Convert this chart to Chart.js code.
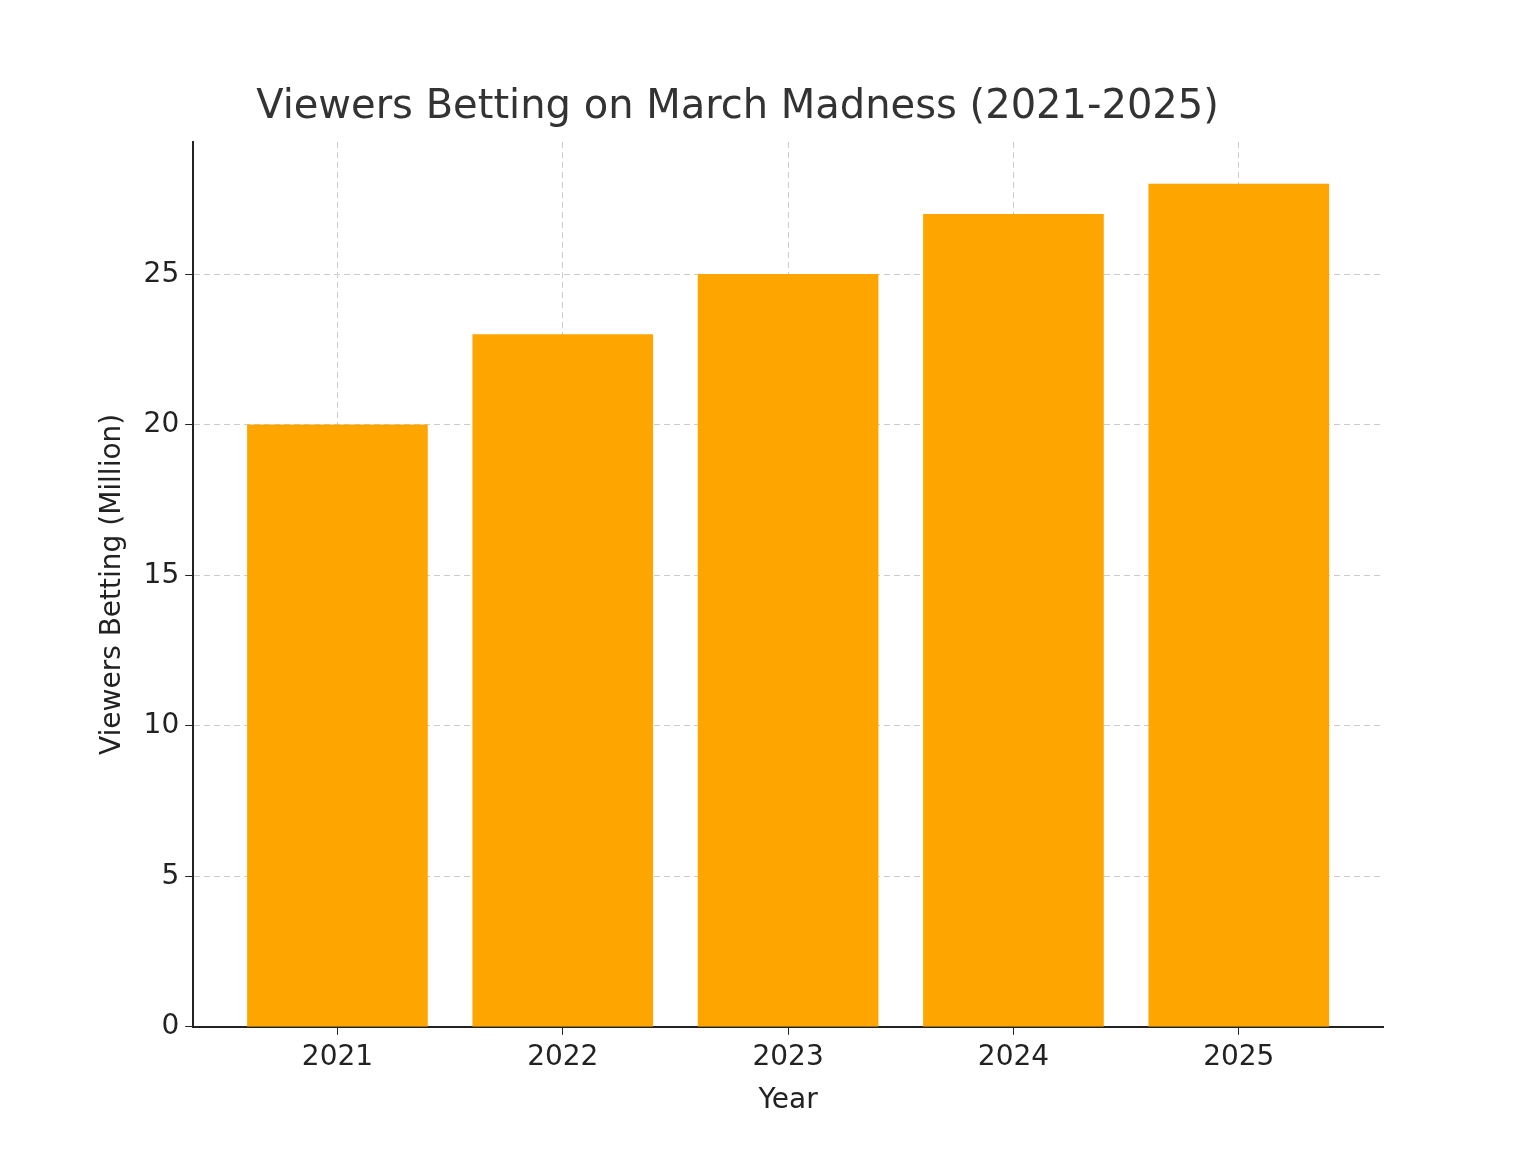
<!DOCTYPE html>
<html>
<head>
<meta charset="utf-8">
<script src="https://cdn.jsdelivr.net/npm/chart.js@4"></script>
<style>
  body { margin: 0; background: #fff; }
  #wrap { width: 1536px; height: 1152px; }
</style>
</head>
<body>
<div id="wrap"><canvas id="chart"></canvas></div>
<script>
const years = ['2021', '2022', '2023', '2024', '2025'];
const viewers = [20, 23, 25, 27, 28];
const yTicks = [0, 5, 10, 15, 20, 25];

const font = 'DejaVu Sans';

new Chart(document.getElementById('chart'), {
  type: 'bar',
  data: {
    datasets: [{
      label: 'Viewers Betting (Million)',
      data: viewers.map((v, i) => ({ x: i, y: v })),
      backgroundColor: '#FFA500',
      barThickness: 180
    }]
  },
  options: {
    responsive: true,
    maintainAspectRatio: false,
    animation: false,
    layout: { padding: { left: 92, right: 153, top: 84, bottom: 30 } },
    plugins: {
      legend: { display: false },
      tooltip: { enabled: false },
      title: {
        display: true,
        text: 'Viewers Betting on March Madness (2021-2025)',
        color: '#333',
        font: { family: font, size: 40, weight: 'normal' },
        padding: { top: 0, bottom: 10 }
      }
    },
    scales: {
      x: {
        type: 'linear',
        offset: false,
        min: -0.64,
        max: 4.64,
        afterBuildTicks: axis => { axis.ticks = years.map((_, i) => ({ value: i })); },
        ticks: {
          callback: v => years[v],
          color: '#222',
          font: { family: font, size: 28 },
          padding: 6
        },
        grid: { offset: false, color: '#cccccc', tickColor: '#222', tickLength: 8 },
        border: { color: '#222', width: 2, dash: [6, 4] },
        title: { display: true, text: 'Year', color: '#222', font: { family: font, size: 28 }, padding: { top: 4 } }
      },
      y: {
        min: 0,
        max: 29.4,
        afterBuildTicks: axis => { axis.ticks = yTicks.map(v => ({ value: v })); },
        ticks: { color: '#222', font: { family: font, size: 28 }, padding: 6 },
        grid: { color: '#cccccc', tickColor: '#222', tickLength: 8 },
        border: { color: '#222', width: 2, dash: [6, 4] },
        title: { display: true, text: 'Viewers Betting (Million)', color: '#222', font: { family: font, size: 28 }, padding: { bottom: 8 } }
      }
    }
  }
});
</script>
</body>
</html>
